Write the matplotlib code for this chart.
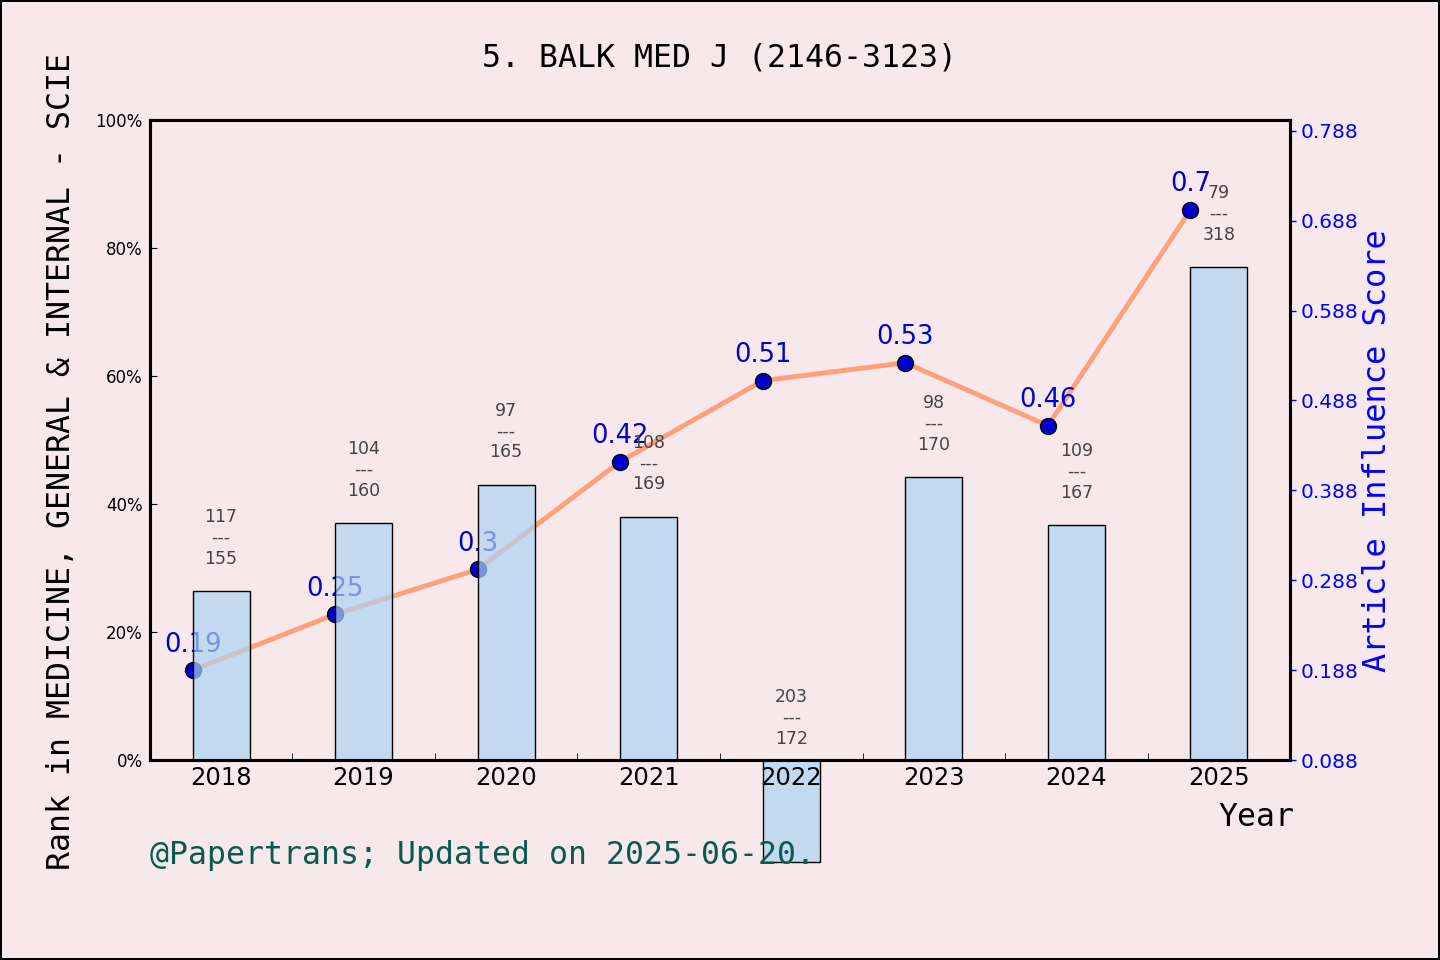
import numpy as np
import matplotlib.pyplot as plt
from matplotlib.ticker import FixedLocator

# data
years = ["2018", "2019", "2020", "2021", "2022", "2023", "2024", "2025"]
rank = [117, 104, 97, 108, 203, 98, 109, 79]
total = [155, 160, 165, 169, 172, 170, 167, 318]
bar_pct = [26.4, 37.0, 43.0, 38.0, -15.9, 44.2, 36.7, 77.0]
ais = [0.188, 0.25, 0.30, 0.42, 0.51, 0.53, 0.46, 0.70]

title = "5. BALK MED J (2146-3123)"
note = "@Papertrans; Updated on 2025-06-20."

bg = "#f7e8ec"
mono = "DejaVu Sans Mono"

fig = plt.figure(figsize=(14.4, 9.6), dpi=100, facecolor=bg,
                 edgecolor="black", linewidth=1.5)
ax = fig.add_axes([0.104, 0.2083, 0.792, 0.6667])
ax2 = ax.twinx()
ax.set_zorder(ax2.get_zorder() + 1)
ax.patch.set_visible(False)
ax2.set_facecolor("white")

x = np.arange(len(years))

# line of Article Influence Score (drawn below bars)
ax2.plot(x - 0.2, ais, color="#ffa07a", lw=3.5, marker="o", ms=11.5,
         mfc="#0000cd", mec="black", mew=1, zorder=2)
for xi, v in zip(x - 0.2, ais):
    ax2.annotate(f"{v:.2f}".rstrip("0").rstrip("."), (xi, v), xytext=(0, 9),
                 textcoords="offset points", ha="center", va="bottom",
                 color="#0000cd", fontsize=18.5)
ax2.set_ylim(min(ais) - 0.1, max(ais) + 0.1)
ax2.set_yticks(np.arange(min(ais) - 0.1, max(ais) + 0.1, 0.1))
ax2.set_yticklabels([f"{t:.3f}" for t in ax2.get_yticks()])
ax2.tick_params(axis="y", colors="#0000ff", labelsize=14.5, direction="out",
                length=4, width=1)
ax2.set_ylabel("Article Influence Score", color="#0000ff", fontsize=23,
               family=mono)
ax2.yaxis.set_label_coords(1.063, 0.484)

# bars of rank percentage
ax.set_axisbelow(False)
ax.bar(x, bar_pct, width=0.4, facecolor=(172/255, 211/255, 242/255, 0.7),
       edgecolor="black", linewidth=1, clip_on=False, zorder=1)
for xi, h, r, t in zip(x, bar_pct, rank, total):
    yl = h + 8.3 if h > 0 else 6.6
    ax.text(xi, yl, f"{r}\n---\n{t}", ha="center", va="center",
            fontsize=12.5, color="#444444", linespacing=1.2, zorder=5)

ax.set_xlim(-0.5, len(years) - 0.5)
ax.set_ylim(0, 100)
ax.set_yticks([0, 20, 40, 60, 80, 100])
ax.set_yticklabels([f"{t}%" for t in [0, 20, 40, 60, 80, 100]])
ax.tick_params(axis="y", direction="in", length=5, labelsize=12, pad=5)
ax.set_xticks(x)
ax.set_xticklabels(years)
ax.xaxis.set_minor_locator(FixedLocator(x[:-1] + 0.5))
ax.tick_params(axis="x", which="major", length=0, labelsize=17.5, pad=4)
ax.tick_params(axis="x", which="minor", direction="in", length=5)
ax2.tick_params(axis="x", length=0)

for sp in ax.spines.values():
    sp.set_linewidth(2.2)
for sp in ax2.spines.values():
    sp.set_linewidth(2.2)

ax.set_ylabel("Rank in MEDICINE, GENERAL & INTERNAL - SCIE", fontsize=22.7,
              family=mono)
ax.yaxis.set_label_coords(-0.064, 0.466)
ax.set_xlabel("Year", fontsize=22.7, family=mono)
ax.xaxis.set_label_coords(0.97, -0.065)

fig.text(0.5, 0.94, title, ha="center", va="center", fontsize=22.7, family=mono)
fig.text(0.104, 0.109, note, ha="left", va="center", fontsize=22.7,
         family=mono, color="#0b5a50")

fig.savefig("out.png", dpi=100, facecolor=bg, edgecolor="black")
